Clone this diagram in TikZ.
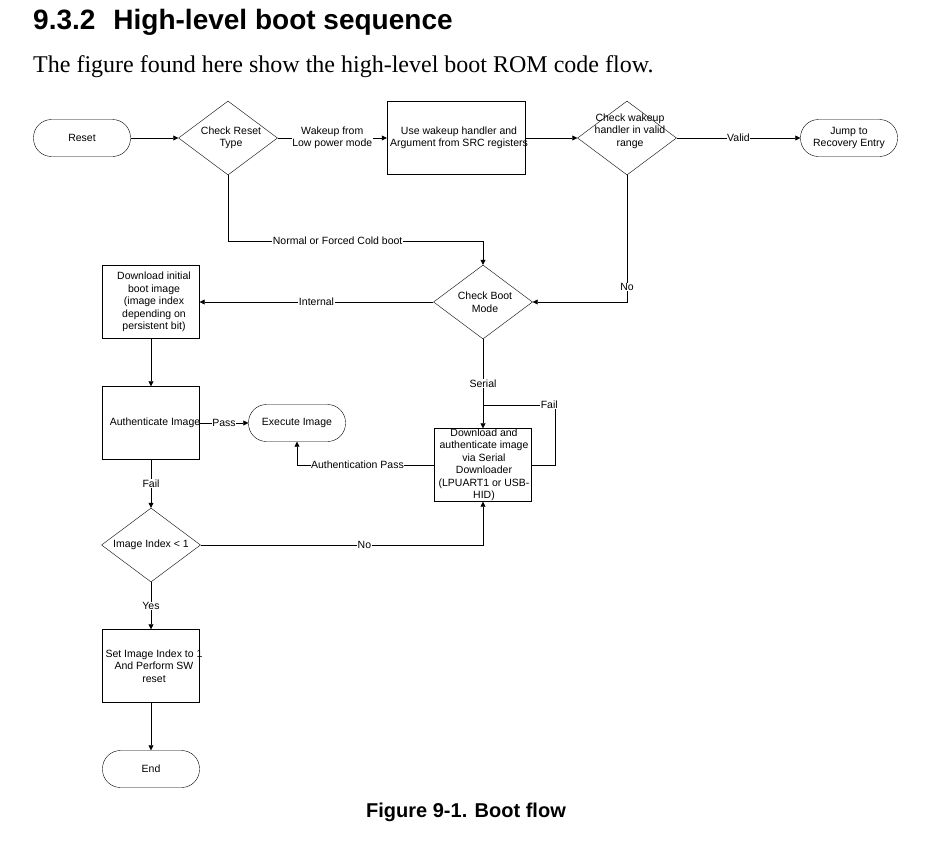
\documentclass[tikz,border=0pt]{standalone}
\usepackage{fontspec}
\setmainfont{Liberation Sans}
\newfontfamily\serifx{Liberation Serif}
\usetikzlibrary{shapes.geometric,arrows.meta}
\begin{document}
\begin{tikzpicture}[x=1pt,y=-1pt,
  every node/.style={font=\fontsize{10.5}{12.5}\selectfont,align=center,inner sep=1pt},
  box/.style={draw,minimum width=97pt,minimum height=73pt},
  term/.style={draw,rounded corners=18pt,minimum width=97pt,minimum height=37pt},
  dia/.style={draw,diamond,aspect=1.33,minimum width=99pt,minimum height=74pt,inner sep=0pt},
  lbl/.style={fill=white,inner sep=0.5pt},
  arr/.style={-{Triangle[length=5pt,width=5pt]},line width=0.7pt},
  ln/.style={line width=0.7pt}]
\useasboundingbox (0,0) rectangle (950,846);
\node[anchor=west,font=\bfseries\fontsize{28}{32}\selectfont,inner sep=0] (title) at (33,22) {9.3.2\hspace{18pt}High-level boot sequence};
\node[anchor=west,font=\serifx\fontsize{24}{28}\selectfont,inner sep=0] (intro) at (33,67) {The figure found here show the high-level boot ROM code flow.};
\node[term] (reset) at (82,138) {Reset};
\node[dia] (crt) at (228,138) {};
\node (crtt) at (231,138) {Check Reset\\Type};
\node[box,minimum width=138pt] (wake) at (456,138) {};
\node (waket) at (459,138) {Use wakeup handler and\\Argument from SRC registers};
\node[dia] (cw) at (627,138) {};
\node (cwt) at (630,131) {Check wakeup\\handler in valid\\range};
\node[term] (jump) at (849,138) {Jump to\\Recovery Entry};
\node[dia] (cbm) at (483,302) {};
\node (cbmt) at (485,302) {Check Boot\\Mode};
\node[box] (dinit) at (151,302) {};
\node (dinitt) at (154,302) {Download initial\\boot image\\(image index\\depending on\\persistent bit)};
\node[box] (auth) at (151,423) {};
\node (autht) at (155,423) {Authenticate Image};
\node[term] (exec) at (297,423) {Execute Image};
\node[box] (dser) at (483,465) {};
\node (dsert) at (484,465) {Download and\\authenticate image\\via Serial\\Downloader\\(LPUART1 or USB-\\HID)};
\node[dia] (idx) at (151,545) {};
\node (idxt) at (151,545) {Image Index < 1};
\node[box] (set) at (151,666) {};
\node (sett) at (154,666) {Set Image Index to 1\\And Perform SW\\reset};
\node[term] (end) at (151,769) {End};
\node[font=\bfseries\fontsize{20}{24}\selectfont] (cap) at (466,812) {Figure 9-1. Boot flow};

\draw[arr] (reset) -- (crt);
\draw[arr] (crt) -- node[lbl]{Wakeup from\\Low power mode} (wake);
\draw[arr] (wake) -- (cw);
\draw[arr] (cw) -- node[lbl]{Valid} (jump);
\coordinate (c1) at (228,241);
\coordinate (c2) at (483,241);
\draw[arr] (crt.south) -- (c1) -- node[lbl,pos=0.43]{Normal or Forced Cold boot} (c2) -- (cbm.north);
\coordinate (c3) at (627,302);
\draw[arr] (cw.south) -- node[lbl,pos=0.88]{No} (c3) -- (cbm.east);
\draw[arr] (cbm.west) -- node[lbl]{Internal} (dinit.east);
\draw[arr] (dinit) -- (auth);
\draw[arr] (auth) -- node[lbl]{Pass} (exec);
\draw[arr] (cbm.south) -- node[lbl,pos=0.5]{Serial} (dser.north);
\coordinate (f1) at (555,465);
\coordinate (f2) at (555,405);
\coordinate (f3) at (483,405);
\draw[ln] (dser.east) -- (f1) -- (f2) -- node[lbl,pos=0.08]{Fail} (f3);
\coordinate (a1) at (297,465);
\draw[arr] (dser.west) -- node[lbl,pos=0.56]{Authentication Pass} (a1) -- (exec.south);
\draw[arr] (auth) -- node[lbl]{Fail} (idx.north);
\coordinate (n1) at (483,545);
\draw[arr] (idx.east) -- node[lbl,pos=0.58]{No} (n1) -- (dser.south);
\draw[arr] (idx.south) -- node[lbl]{Yes} (set);
\draw[arr] (set) -- (end);
\end{tikzpicture}
\end{document}
